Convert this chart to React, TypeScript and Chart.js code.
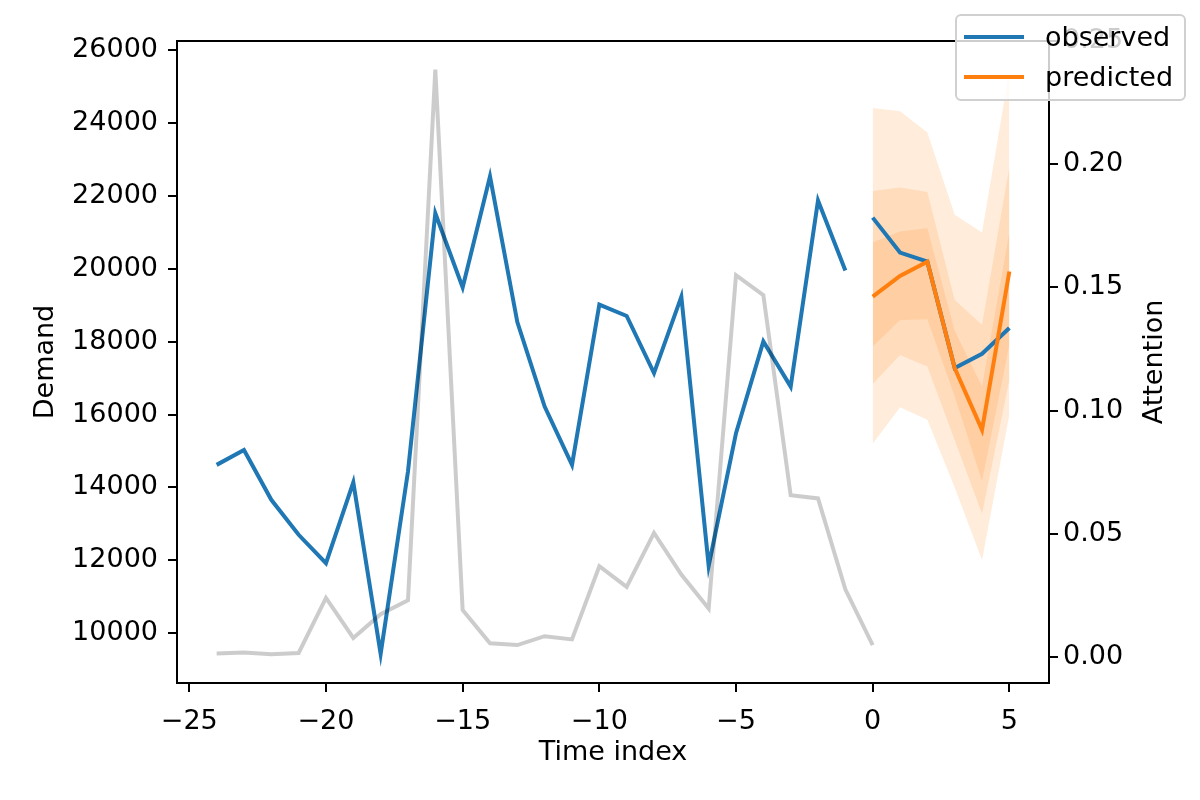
import React, { useEffect, useRef } from 'react'
import { Chart, registerables } from 'chart.js'

Chart.register(...registerables)

// encoder (history) part
const historyIndex = [-24, -23, -22, -21, -20, -19, -18, -17, -16, -15, -14, -13, -12, -11, -10, -9, -8, -7, -6, -5, -4, -3, -2, -1]
const observedHistory = [14620, 15030, 13660, 12700, 11920, 14140, 9430, 14440, 21530, 19490, 22540, 18540, 16220, 14620, 19020, 18710, 17140, 19240, 11850, 15490, 18010, 16770, 21880, 19960]

// decoder (forecast) part
const futureIndex = [0, 1, 2, 3, 4, 5]
const observedFuture = [21410, 20450, 20200, 17280, 17670, 18380]
const predicted = [19240, 19810, 20200, 17280, 15580, 19930]
const q02 = [15200, 16200, 15860, 14000, 12010, 16000]
const q10 = [16840, 17640, 17320, 15300, 13280, 16960]
const q25 = [17870, 18600, 18620, 16500, 14180, 17920]
const q75 = [20730, 21030, 21120, 18300, 16770, 21000]
const q90 = [22140, 22240, 22110, 19150, 18470, 22800]
const q98 = [24420, 24330, 23750, 21490, 21000, 25450]

// attention over encoder steps (right axis)
const attentionIndex = [-24, -23, -22, -21, -20, -19, -18, -17, -16, -15, -14, -13, -12, -11, -10, -9, -8, -7, -6, -5, -4, -3, -2, -1, 0]
const attention = [0.0015, 0.0019, 0.0012, 0.0017, 0.024, 0.0078, 0.0174, 0.0231, 0.2384, 0.0191, 0.0056, 0.0049, 0.0085, 0.0072, 0.0369, 0.0285, 0.0504, 0.0335, 0.0197, 0.155, 0.1469, 0.0657, 0.0644, 0.0275, 0.0049]

const xTicks = [-25, -20, -15, -10, -5, 0, 5]
const demandTicks = [10000, 12000, 14000, 16000, 18000, 20000, 22000, 24000, 26000]
const attentionTicks = [0, 0.05, 0.1, 0.15, 0.2, 0.25]

const BLUE = '#1f77b4'
const ORANGE = '#ff7f0e'
const BAND = 'rgba(255,127,14,0.15)'
const FONT = 'DejaVu Sans'
const FS = 27

const pts = (xs: number[], ys: number[]) => xs.map((x, i) => ({ x, y: ys[i] }))

const frame = {
  id: 'frame',
  afterDraw(chart: Chart) {
    const { ctx, chartArea: a } = chart
    ctx.save()
    ctx.strokeStyle = '#000'
    ctx.lineWidth = 2
    ctx.strokeRect(a.left, a.top, a.right - a.left, a.bottom - a.top)
    // right axis label, matplotlib keeps it reading bottom-to-top
    ctx.fillStyle = '#000'
    ctx.font = `${FS}px "${FONT}"`
    ctx.textAlign = 'center'
    ctx.textBaseline = 'middle'
    ctx.translate(1155, (a.top + a.bottom) / 2)
    ctx.rotate(-Math.PI / 2)
    ctx.fillText('Attention', 0, 0)
    ctx.restore()
  },
}

const line = (data: any, color: string, yAxisID = 'y') => ({
  data,
  borderColor: color,
  borderWidth: 4,
  pointRadius: 0,
  fill: false,
  yAxisID,
})

const band = (data: any, fill: any) => ({
  data,
  borderWidth: 0,
  borderColor: 'transparent',
  backgroundColor: BAND,
  pointRadius: 0,
  fill,
  yAxisID: 'y',
})

const tickGrid = { drawOnChartArea: false, drawTicks: true, tickLength: 9, color: '#000', lineWidth: 2 }

export default function App() {
  const canvasRef = useRef<HTMLCanvasElement>(null)
  const chartRef = useRef<Chart | null>(null)

  useEffect(() => {
    if (!canvasRef.current) return
    if (chartRef.current) {
      chartRef.current.destroy()
      chartRef.current = null
    }

    chartRef.current = new Chart(canvasRef.current, {
      type: 'line',
      data: {
        datasets: [
          line(pts(attentionIndex, attention), 'rgba(0,0,0,0.2)', 'y2'),
          line(pts(futureIndex, predicted), ORANGE),
          line(pts(historyIndex, observedHistory), BLUE),
          line(pts(futureIndex, observedFuture), BLUE),
          band(pts(futureIndex, q02), false),
          band(pts(futureIndex, q98), '-1'),
          band(pts(futureIndex, q10), false),
          band(pts(futureIndex, q90), '-1'),
          band(pts(futureIndex, q25), false),
          band(pts(futureIndex, q75), '-1'),
        ] as any,
      },
      options: {
        animation: false,
        responsive: true,
        maintainAspectRatio: false,
        layout: { padding: { top: 41, left: 0, right: 0, bottom: 0 } },
        elements: { line: { tension: 0 } },
        plugins: { legend: { display: false }, tooltip: { enabled: false } },
        scales: {
          x: {
            type: 'linear',
            min: -25.45,
            max: 6.45,
            border: { display: false },
            grid: tickGrid,
            afterBuildTicks: (s: any) => { s.ticks = xTicks.map(v => ({ value: v })) },
            afterFit: (s: any) => { s.height = 117 },
            ticks: {
              color: '#000',
              padding: 14,
              maxRotation: 0,
              font: { family: FONT, size: FS },
              callback: (v: any) => String(v).replace('-', '\u2212'),
            },
            title: {
              display: true,
              text: 'Time index',
              color: '#000',
              font: { family: FONT, size: FS },
              padding: { top: 0, bottom: 31 },
            },
          },
          y: {
            type: 'linear',
            position: 'left',
            min: 8630,
            max: 26260,
            border: { display: false },
            grid: tickGrid,
            afterBuildTicks: (s: any) => { s.ticks = demandTicks.map(v => ({ value: v })) },
            afterFit: (s: any) => { s.width = 177 },
            ticks: {
              color: '#000',
              padding: 10,
              font: { family: FONT, size: FS },
              callback: (v: any) => String(v),
            },
            title: {
              display: true,
              text: 'Demand',
              color: '#000',
              font: { family: FONT, size: FS },
              padding: { top: 30, bottom: 0 },
            },
          },
          y2: {
            type: 'linear',
            position: 'right',
            min: -0.0105,
            max: 0.25,
            border: { display: false },
            grid: tickGrid,
            afterBuildTicks: (s: any) => { s.ticks = attentionTicks.map(v => ({ value: v })) },
            afterFit: (s: any) => { s.width = 151 },
            ticks: {
              color: '#000',
              padding: 5,
              font: { family: FONT, size: FS },
              callback: (v: any) => Number(v).toFixed(2),
            },
          },
        },
      },
      plugins: [frame],
    })

    return () => {
      if (chartRef.current) {
        chartRef.current.destroy()
        chartRef.current = null
      }
    }
  }, [])

  const legendRow = (color: string, label: string, top: number) => (
    <div style={{ position: 'absolute', left: 0, top, height: 40, width: 231, display: 'flex', alignItems: 'center' }}>
      <div style={{ position: 'absolute', left: 7, width: 60, height: 4, background: color }} />
      <span style={{ position: 'absolute', left: 88, fontFamily: FONT, fontSize: FS, color: '#000', lineHeight: '40px' }}>{label}</span>
    </div>
  )

  return (
    <div style={{ position: 'fixed', left: 0, top: 0, width: 1200, height: 800, background: '#fff' }}>
      <canvas ref={canvasRef} />
      <div
        style={{
          position: 'absolute',
          left: 955,
          top: 14,
          width: 231,
          height: 87,
          boxSizing: 'border-box',
          border: '2px solid #d0d0d0',
          borderRadius: 6,
          background: 'rgba(255,255,255,0.8)',
        }}
      >
        {legendRow(BLUE, 'observed', 1)}
        {legendRow(ORANGE, 'predicted', 41)}
      </div>
    </div>
  )
}
